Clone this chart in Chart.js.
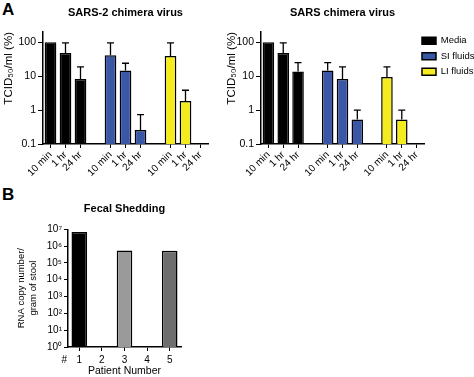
<!DOCTYPE html>
<html>
<head>
<meta charset="utf-8">
<script src="https://cdn.jsdelivr.net/npm/chart.js@4.4.1/dist/chart.umd.min.js"></script>
<style>
  body { margin: 0; width: 474px; height: 377px; background: #fff; position: relative; overflow: hidden; }
  canvas { position: absolute; }
  .panel { position: absolute; font: bold 17px "Liberation Sans", Arial, sans-serif; color: #000; }
</style>
</head>
<body>
<div class="panel" style="left:2px;top:0px">A</div>
<div class="panel" style="left:2px;top:185px">B</div>
<canvas id="sars2" width="215" height="185" style="left:0;top:0"></canvas>
<canvas id="sars" width="259" height="185" style="left:215px;top:0"></canvas>
<canvas id="fecal" width="200" height="187" style="left:0;top:190px"></canvas>
<script>
// panel A: % TCID50/ml remaining after incubation
const timepoints = ["10 min", "1 hr", "24 hr"];
const fluids = ["Media", "SI fluids", "LI fluids"];
const fluidColors = ["#000000", "#3a57a5", "#f4ec1f"];

const sars2Media = [100, 48, 8.2];
const sars2MediaErr = [0, 47, 10.6];
const sars2SI = [41.5, 14.7, 0.26];
const sars2SIErr = [53.5, 9.3, 0.47];
const sars2LI = [39.5, 1.84, null];
const sars2LIErr = [55.5, 2.0, null];

const sarsMedia = [100, 48, 13.7];
const sarsMediaErr = [0, 47, 11.3];
const sarsSI = [14.7, 8.3, 0.53];
const sarsSIErr = [10.3, 10.5, 0.47];
const sarsLI = [9.5, 0.53, null];
const sarsLIErr = [9.3, 0.47, null];

const pctTicks = [0.1, 1, 10, 100];

// panel B: fecal shedding per patient
const patients = ["1", "2", "3", "4", "5"];
const rnaCopies = [6.9e6, null, 5.5e5, null, 5.3e5];
const patientColors = ["#000000", "#000000", "#9a9a9a", "#000000", "#6e6e6e"];
const rnaTicks = [1, 10, 1e2, 1e3, 1e4, 1e5, 1e6, 1e7];
const sup = ["⁰", "¹", "²", "³", "⁴", "⁵", "⁶", "⁷"];

Chart.defaults.font.family = '"Liberation Sans", Arial, sans-serif';
Chart.defaults.color = "#000";
Chart.defaults.animation = false;

// groups of three bars with one empty slot between groups
const slotLabels = fluids.flatMap((f, gi) => gi < fluids.length - 1 ? [...timepoints, ""] : timepoints);
function toSlots(values, gi) {
  const out = new Array(slotLabels.length).fill(null);
  values.forEach((v, i) => { out[gi * 4 + i] = v; });
  return out;
}

const errorBars = {
  id: "errorBars",
  afterDatasetsDraw(chart) {
    const ctx = chart.ctx;
    const y = chart.scales.y;
    chart.data.datasets.forEach((ds, i) => {
      if (!ds.errorPlus) return;
      chart.getDatasetMeta(i).data.forEach((bar, j) => {
        const v = ds.data[j], e = ds.errorPlus[j];
        if (v == null || !e) return;
        const top = y.getPixelForValue(v + e);
        ctx.save();
        ctx.strokeStyle = "#000";
        ctx.lineWidth = 1.3;
        ctx.beginPath();
        ctx.moveTo(bar.x, bar.y);
        ctx.lineTo(bar.x, top);
        ctx.moveTo(bar.x - 3.5, top);
        ctx.lineTo(bar.x + 3.5, top);
        ctx.stroke();
        ctx.restore();
      });
    });
  }
};

// legend sits partly over the empty top-right corner of the plot
const legendNudge = {
  id: "legendNudge",
  afterLayout(chart, args, opts) {
    const lg = chart.legend;
    if (!lg || !lg.options.display) return;
    lg.left += opts.dx;
    lg.right = chart.width;
    lg.top += opts.dy; lg.bottom += opts.dy;
  }
};

function virusChart(id, title, series, errs, showLegend, yTitlePad, yWidth, padRight) {
  return new Chart(document.getElementById(id), {
    type: "bar",
    data: {
      labels: slotLabels,
      datasets: fluids.map((f, gi) => ({
        label: f,
        data: toSlots(series[gi], gi),
        errorPlus: toSlots(errs[gi], gi),
        backgroundColor: fluidColors[gi],
        borderColor: "#000",
        borderWidth: 1.5,
        grouped: false,
        barPercentage: 0.78,
        categoryPercentage: 1
      }))
    },
    options: {
      responsive: false,
      layout: { padding: { left: 0, right: padRight, top: 0, bottom: 0 } },
      plugins: {
        title: {
          display: true, text: title, fullSize: false,
          font: { size: 11, weight: "bold" },
          padding: { top: 6.4, bottom: 12.4 }
        },
        legend: {
          display: showLegend, position: "right", align: "start", fullSize: false, maxWidth: 50,
          labels: { boxWidth: 14, boxHeight: 7, padding: 6, font: { size: 9.5 }, color: "#000" }
        },
        legendNudge: { dx: -8, dy: -2 },
        tooltip: { enabled: false }
      },
      scales: {
        x: {
          afterFit: s => { s.height = 41; },
          grid: {
            display: true, drawOnChartArea: false, offset: false, tickLength: 4,
            tickColor: c => (c.tick && c.tick.label === "") ? "rgba(0,0,0,0)" : "#000"
          },
          border: { color: "#000", width: 1.5 },
          ticks: { autoSkip: false, minRotation: 45, maxRotation: 45, padding: 1, font: { size: 10 } }
        },
        y: {
          type: "logarithmic", min: 0.1, max: 200,
          afterFit: s => { s.width = yWidth; },
          afterBuildTicks: s => { s.ticks = pctTicks.map(v => ({ value: v })); },
          grid: { drawOnChartArea: false, tickLength: 5, color: "#000" },
          border: { color: "#000", width: 1.5 },
          ticks: { padding: 2, font: { size: 10.5 }, callback: v => String(v) },
          title: {
            display: true, text: "TCID₅₀/ml (%)", align: "end",
            font: { size: 11.5 }, padding: { top: yTitlePad, bottom: 0 }
          }
        }
      }
    },
    plugins: [errorBars, legendNudge]
  });
}

virusChart("sars2", "SARS-2 chimera virus",
  [sars2Media, sars2SI, sars2LI], [sars2MediaErr, sars2SIErr, sars2LIErr], false, 1.5, 43, 7);
virusChart("sars", "SARS chimera virus",
  [sarsMedia, sarsSI, sarsLI], [sarsMediaErr, sarsSIErr, sarsLIErr], true, 10, 46, 0);

const hashLabel = {
  id: "hashLabel",
  afterDraw(chart) {
    const xs = chart.scales.x;
    const ctx = chart.ctx;
    ctx.save();
    ctx.fillStyle = "#000";
    ctx.font = '10px "Liberation Sans", Arial, sans-serif';
    ctx.textAlign = "right";
    ctx.textBaseline = "middle";
    ctx.fillText("#", xs.left - 1, xs.top + 4 + 3 + 6);
    ctx.restore();
  }
};

new Chart(document.getElementById("fecal"), {
  type: "bar",
  data: {
    labels: patients,
    datasets: [{
      label: "RNA copies",
      data: rnaCopies,
      backgroundColor: patientColors,
      borderColor: "#000",
      borderWidth: 1.5,
      barPercentage: 0.69,
      categoryPercentage: 1
    }]
  },
  options: {
    responsive: false,
    layout: { padding: { left: 0, right: 19, top: 0, bottom: 0 } },
    plugins: {
      title: {
        display: true, text: "Fecal Shedding", fullSize: false,
        font: { size: 11, weight: "bold" },
        padding: { top: 12.4, bottom: 13.7 }
      },
      legend: { display: false },
      tooltip: { enabled: false }
    },
    scales: {
      x: {
        afterFit: s => { s.height = 30; },
        grid: { display: true, drawOnChartArea: false, offset: false, tickLength: 4, color: "#000" },
        border: { color: "#000", width: 1.5 },
        ticks: { padding: 3, font: { size: 10 } },
        title: { display: true, text: "Patient Number", font: { size: 10.5 }, padding: { top: 0, bottom: 0 } }
      },
      y: {
        type: "logarithmic", min: 1, max: 1e7,
        afterFit: s => { s.width = 68; },
        afterBuildTicks: s => { s.ticks = rnaTicks.map(v => ({ value: v })); },
        grid: { drawOnChartArea: false, tickLength: 4, color: "#000" },
        border: { color: "#000", width: 1.5 },
        ticks: {
          padding: 2, font: { size: 10 },
          callback: v => "10" + sup[Math.round(Math.log10(v))]
        },
        title: {
          display: true, text: ["RNA copy number/", "gram of stool"],
          font: { size: 9.5 }, padding: { top: 16, bottom: 0 }
        }
      }
    }
  },
  plugins: [hashLabel]
});
</script>
</body>
</html>
